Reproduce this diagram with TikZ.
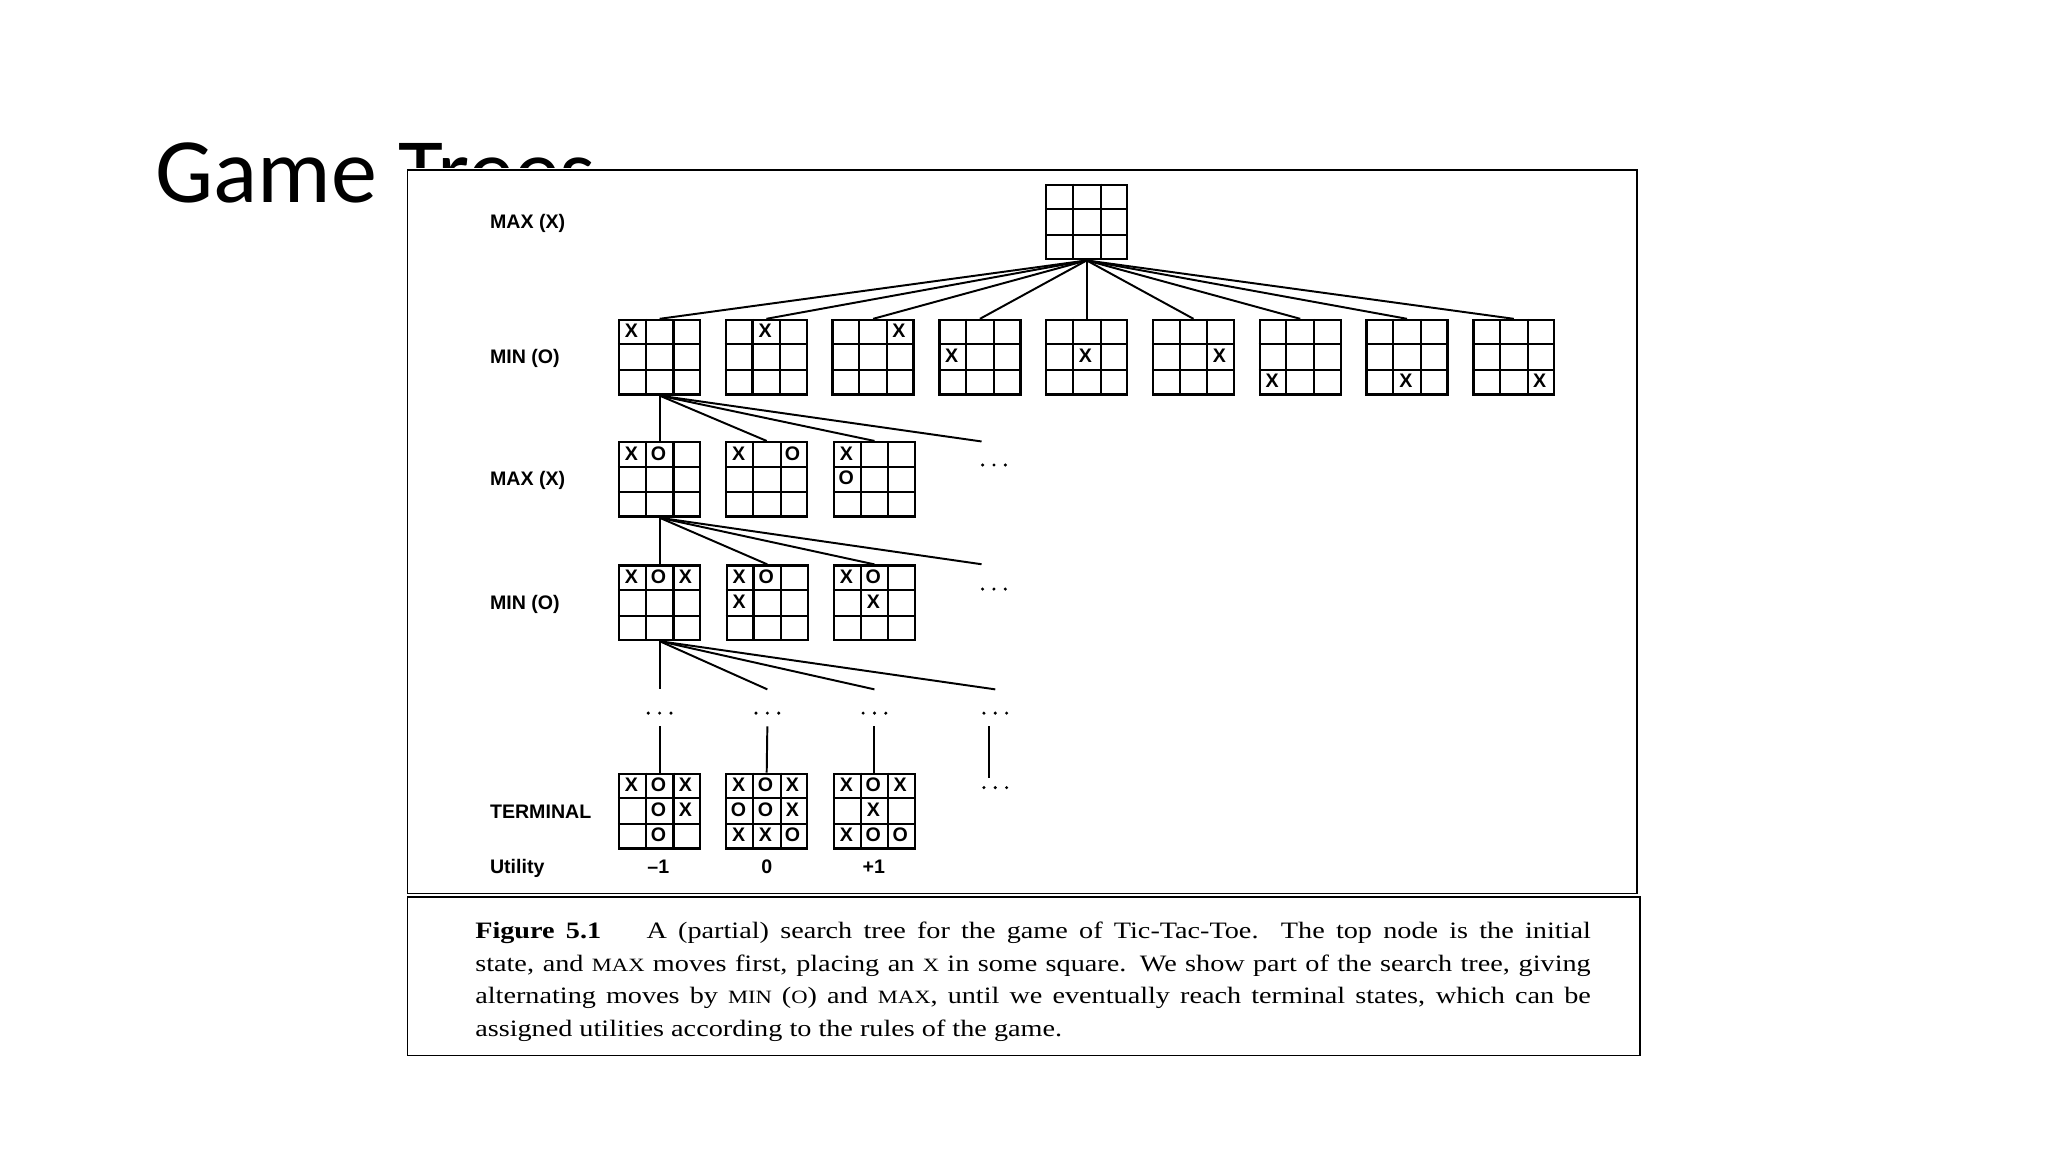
\documentclass[tikz,border=0pt]{standalone}
\usepackage{fontspec}
\usepackage{graphicx}
\setmainfont{Liberation Serif}
\setsansfont{Liberation Sans}
\newfontfamily\slidefont{Carlito}
\usetikzlibrary{calc}

\tikzset{
  board/.style={draw, line width=1.8pt, minimum width=62pt, minimum height=57pt, inner sep=0pt},
  cellline/.style={line width=1.6pt},
  xo/.style={inner sep=0pt, font=\sffamily\bfseries\fontsize{15}{16}\selectfont},
  edge/.style={line width=1.5pt},
  level/.style={anchor=base west, inner sep=0pt, font=\sffamily\bfseries\fontsize{15}{16}\selectfont},
  utility/.style={anchor=base, inner sep=0pt, font=\sffamily\bfseries\fontsize{15}{16}\selectfont},
  dotrow/.style={minimum width=24pt, minimum height=20pt, inner sep=0pt},
  frame/.style={line width=1.3pt}
}

% small capitals for the caption
\newcommand{\smc}[1]{{\fontsize{14.4}{25}\selectfont #1}}

% one tic-tac-toe position: name, centre, marks as column/row/symbol
\newcommand{\tttboard}[3]{%
  \node[board] (#1) at (#2) {};
  \foreach \k in {1,2} {
    \draw[cellline] ($(#1.north west)!\k/3!(#1.north east)$) -- ($(#1.south west)!\k/3!(#1.south east)$);
    \draw[cellline] ($(#1.north west)!\k/3!(#1.south west)$) -- ($(#1.north east)!\k/3!(#1.south east)$);
  }
  \foreach \bc/\br/\bm in {#3} {
    \node[xo] (#1-\bc-\br) at ($(#1.north west)+({(\bc+0.5)*62/3},{(\br+0.5)*57/3})$) {\bm};
  }
}

\begin{document}
\begin{tikzpicture}[x=1pt, y=-1pt]
  \useasboundingbox (0,0) rectangle (1568,882);

  % --- Slide title, partly hidden behind the scanned figure ---
  \node[anchor=base west, inner sep=0pt, font=\slidefont\fontsize{70.5}{80}\selectfont] (title) at (119,155) {Game Trees};

  % --- The figure: white page, upper panel and caption panel ---
  \fill[white] (311,128.3) rectangle (1257,810);
  \draw[frame] (312,130) rectangle (1253.5,684);
  \draw[frame] (312,687) rectangle (1255.7,808);

  % --- Level labels on the left ---
  \node[level] (lmax1) at (375,175) {MAX (X)};
  \node[level] (lmin1) at (375,278) {MIN (O)};
  \node[level] (lmax2) at (375,372) {MAX (X)};
  \node[level] (lmin2) at (375,467) {MIN (O)};
  \node[level] (lterm) at (375,626.5) {TERMINAL};
  \node[level] (lutil) at (375,669) {Utility};

  % --- Root: the empty board ---
  \tttboard{root}{832,170}{}

  % --- MIN (O) level: X in each of the nine squares ---
  \tttboard{m1}{505,273.5}{0/0/X}
  \tttboard{m2}{586.75,273.5}{1/0/X}
  \tttboard{m3}{668.5,273.5}{2/0/X}
  \tttboard{m4}{750.25,273.5}{0/1/X}
  \tttboard{m5}{832,273.5}{1/1/X}
  \tttboard{m6}{913.75,273.5}{2/1/X}
  \tttboard{m7}{995.5,273.5}{0/2/X}
  \tttboard{m8}{1077.25,273.5}{1/2/X}
  \tttboard{m9}{1159,273.5}{2/2/X}

  % --- MAX (X) level ---
  \tttboard{x1}{505,367}{0/0/X,1/0/O}
  \tttboard{x2}{587,367}{0/0/X,2/0/O}
  \tttboard{x3}{669.5,367}{0/0/X,0/1/O}

  % --- MIN (O) level ---
  \tttboard{n1}{505,461.5}{0/0/X,1/0/O,2/0/X}
  \tttboard{n2}{587.5,461.5}{0/0/X,1/0/O,0/1/X}
  \tttboard{n3}{669.5,461.5}{0/0/X,1/0/O,1/1/X}

  % --- Terminal positions ---
  \tttboard{t1}{505,621}{0/0/X,1/0/O,2/0/X,1/1/O,2/1/X,1/2/O}
  \tttboard{t2}{587,621}{0/0/X,1/0/O,2/0/X,0/1/O,1/1/O,2/1/X,0/2/X,1/2/X,2/2/O}
  \tttboard{t3}{669.5,621}{0/0/X,1/0/O,2/0/X,1/1/X,0/2/X,1/2/O,2/2/O}

  % --- Utility values ---
  \node[utility] (u1) at (504,669) {--1};
  \node[utility] (u2) at (587,669) {0};
  \node[utility] (u3) at (669,669) {+1};

  % --- Elided branches: rows of three dots ---
  \node[dotrow] (dx) at (761,356) {};
  \node[dotrow] (dn) at (761,451) {};
  \node[dotrow] (d1) at (505,546) {};
  \node[dotrow] (d2) at (587.5,546) {};
  \node[dotrow] (d3) at (669.5,546) {};
  \node[dotrow] (d4) at (762,546) {};
  \node[dotrow] (dt) at (762,603) {};
  \foreach \d in {dx,dn,d1,d2,d3,d4,dt}
    \foreach \k in {-1,0,1}
      \fill ([xshift=\k*8.7pt]\d.center) circle (1.3pt);

  % --- Free ends of the fourth branch at each level ---
  \coordinate (moreA) at (751.5,338);
  \coordinate (moreB) at (751.5,432);

  % --- Moves ---
  \foreach \i in {1,...,9} \draw[edge] (root.south) -- (m\i.north);
  \draw[edge] (m1.south) -- (x1.north);
  \draw[edge] (m1.south) -- (x2.north);
  \draw[edge] (m1.south) -- (x3.north);
  \draw[edge] (m1.south) -- (moreA);
  \draw[edge] (x1.south) -- (n1.north);
  \draw[edge] (x1.south) -- (n2.north);
  \draw[edge] (x1.south) -- (n3.north);
  \draw[edge] (x1.south) -- (moreB);
  \foreach \i in {1,...,4} \draw[edge] (n1.south) -- ([yshift=8pt]d\i.north);
  \draw[edge] (d1.south) -- (t1.north);
  \draw[edge] (d2.south) -- (t2.north);
  \draw[edge] (d3.south) -- (t3.north);
  \draw[edge] ([xshift=-5pt]d4.south) -- ([xshift=-5pt, yshift=-3pt]dt.north);

  % --- Caption ---
  \node[anchor=base west, inner sep=0pt] (caption) at (363.7,718.5) {\scalebox{1.2}[1]{\parbox[t]{711.7pt}{\fontsize{18}{25}\selectfont
    \textbf{Figure 5.1}\hspace{29pt}A (partial) search tree for the game of Tic-Tac-Toe.\ \ The top node is the initial\linebreak
    state, and \smc{MAX} moves first, placing an \smc{X} in some square. We show part of the search tree, giving\linebreak
    alternating moves by \smc{MIN} (\smc{O}) and \smc{MAX}, until we eventually reach terminal states, which can be\linebreak
    assigned utilities according to the rules of the game.}}};

\end{tikzpicture}
\end{document}
